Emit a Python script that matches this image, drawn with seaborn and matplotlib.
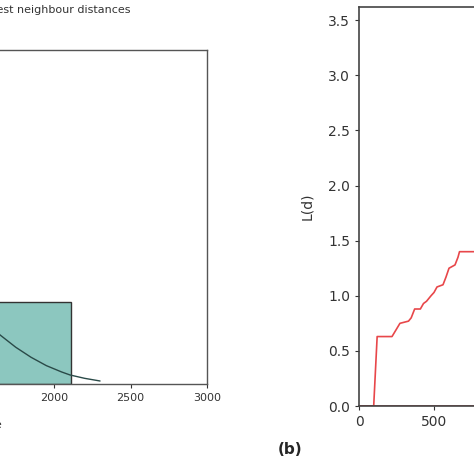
import matplotlib
matplotlib.use("Agg")
import matplotlib.pyplot as plt
import seaborn as sns
import numpy as np

sns.set_style("white")
plt.rcParams['font.family'] = ['DejaVu Sans']

# left panel: histogram of nearest neighbour distances
bin_left = [900, 1500]
bin_width = [600, 610]
bin_height = [0.55, 0.245]
curve_x = [1400, 1500, 1647, 1750, 1850, 1950, 2050, 2105, 2200, 2301]
curve_y = [0.27, 0.21, 0.147, 0.11, 0.08, 0.055, 0.036, 0.027, 0.017, 0.009]

# right panel: L(d) step function
d_vals = [0, 98, 121, 220, 273, 330, 348, 371, 409, 430, 450, 480, 500, 520, 560, 580, 600, 640, 660, 670, 720, 900]
L_vals = [0, 0, 0.63, 0.63, 0.75, 0.77, 0.80, 0.88, 0.88, 0.93, 0.95, 1.0, 1.03, 1.08, 1.1, 1.17, 1.25, 1.28, 1.35, 1.4, 1.4, 1.4]

fig = plt.figure(figsize=(4.74, 4.74), dpi=100)
W = H = 474.0
tc = '#333333'

axL = fig.add_axes([-252 / W, 1 - 384 / H, 459 / W, 334 / H])
axL.bar(bin_left, bin_height, width=bin_width, align='edge', color='#8cc7bf', edgecolor='#333333', linewidth=1)
sns.lineplot(x=curve_x, y=curve_y, ax=axL, color='#2a4a48', linewidth=1)
axL.set_xlim(0, 3000)
axL.set_ylim(0, 1)
axL.set_xticks([2000, 2500, 3000])
axL.set_yticks([])
axL.tick_params(axis='x', labelsize=8, colors=tc, length=3, bottom=True)
for s in axL.spines.values():
    s.set_color('#555555'); s.set_linewidth(1)

axR = fig.add_axes([359 / W, 1 - 406 / H, 600 / W, 399 / H])
axR.plot(d_vals, L_vals, color='#e8474a', linewidth=1.2)
axR.axhline(0, color='#a0302f', linewidth=1.8)
axR.set_xlim(0, 4000)
axR.set_ylim(0, 3.62)
axR.set_xticks([0, 500])
axR.set_yticks([0, 0.5, 1.0, 1.5, 2.0, 2.5, 3.0, 3.5])
axR.set_yticklabels(['0.0', '0.5', '1.0', '1.5', '2.0', '2.5', '3.0', '3.5'])
axR.tick_params(labelsize=10, colors=tc, length=3, left=True, bottom=True)
axR.set_ylabel('L(d)', fontsize=10, color=tc, labelpad=10)
for s in axR.spines.values():
    s.set_color('#444444'); s.set_linewidth(1.2)

fig.text(131 / W, 1 - 10 / H, 'Nearest neighbour distances', ha='right', va='center', fontsize=8, color=tc)
fig.text(3 / W, 1 - 425 / H, 'Distance', ha='right', va='center', fontsize=8, color=tc)
fig.text(290 / W, 1 - 449 / H, '(b)', ha='center', va='center', fontsize=11, fontweight='bold')

fig.savefig('out.png', dpi=100)
